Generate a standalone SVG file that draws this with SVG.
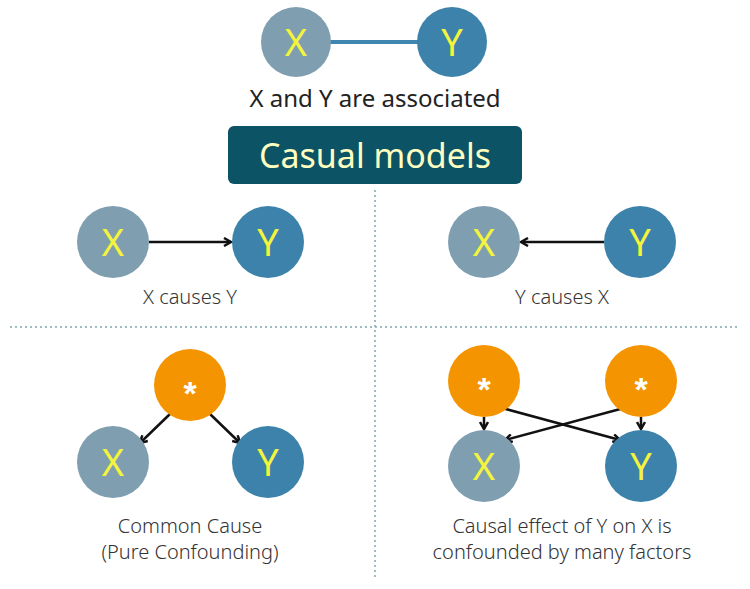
<svg xmlns="http://www.w3.org/2000/svg" width="750" height="589" viewBox="0 0 750 589">
<style>
.cx{fill:#7f9fb1}.cy{fill:#3d82aa}.cs{fill:#f49400}
.l{font-family:"Noto Sans","Liberation Sans",sans-serif;font-size:38px;fill:#f4f43c;text-anchor:middle}
.st{font-family:"Liberation Sans",sans-serif;font-size:34px;font-weight:bold;fill:#fff;text-anchor:middle}
.t{font-family:"Noto Sans","Liberation Sans",sans-serif;font-size:20px;font-weight:300;fill:#333;text-anchor:middle}
.a{stroke:#111;stroke-width:2.5;fill:none;marker-end:url(#ah)}
.d{stroke:#7fa8b0;stroke-width:1.5;stroke-dasharray:2 3}
</style>
<defs><marker id="ah" markerWidth="10" markerHeight="10" refX="8" refY="5" orient="auto" markerUnits="userSpaceOnUse"><path d="M1,1 L8,5 L1,9" fill="none" stroke="#111" stroke-width="2.5"/></marker></defs>
<rect width="750" height="589" fill="#fff"/>
<g id="connectors">
<line x1="320" y1="42" x2="430" y2="42" stroke="#3f86b0" stroke-width="4"/>
<line class="d" x1="375" y1="190" x2="375" y2="580"/>
<line class="d" x1="10" y1="327" x2="740" y2="327"/>
<line class="a" x1="149" y1="242" x2="231" y2="242"/>
<line class="a" x1="604" y1="242" x2="521" y2="242"/>
<line class="a" x1="170" y1="414" x2="140" y2="443"/>
<line class="a" x1="210" y1="414" x2="240" y2="443"/>
<line class="a" x1="484" y1="417" x2="484" y2="429"/>
<line class="a" x1="641" y1="417" x2="641" y2="429"/>
<line class="a" x1="502" y1="408" x2="620" y2="440"/>
<line class="a" x1="624" y1="408" x2="505" y2="440"/>
</g>
<g id="top-x"><circle class="cx" cx="296" cy="42" r="35"/><text class="l" x="296" y="56">X</text></g>
<g id="top-y"><circle class="cy" cx="452" cy="42" r="35"/><text class="l" x="452" y="56">Y</text></g>
<text x="375" y="107" font-family="Noto Sans,Liberation Sans,sans-serif" font-size="24" fill="#222" text-anchor="middle">X and Y are associated</text>
<g id="title"><rect x="228" y="126" width="294" height="58" rx="6" fill="#0d5366"/><text x="375" y="168" font-family="Noto Sans,Liberation Sans,sans-serif" font-size="34" fill="#ffffc0" text-anchor="middle">Casual models</text></g>
<g id="p1x"><circle class="cx" cx="113" cy="242" r="36"/><text class="l" x="113" y="256">X</text></g>
<g id="p1y"><circle class="cy" cx="268" cy="242" r="36"/><text class="l" x="268" y="256">Y</text></g>
<text class="t" x="190" y="304">X causes Y</text>
<g id="p2x"><circle class="cx" cx="484" cy="242" r="36"/><text class="l" x="484" y="256">X</text></g>
<g id="p2y"><circle class="cy" cx="640" cy="242" r="36"/><text class="l" x="640" y="256">Y</text></g>
<text class="t" x="562" y="304">Y causes X</text>
<g id="p3s"><circle class="cs" cx="190" cy="385" r="36"/><text class="st" x="190" y="405">*</text></g>
<g id="p3x"><circle class="cx" cx="113" cy="462" r="36"/><text class="l" x="113" y="476">X</text></g>
<g id="p3y"><circle class="cy" cx="268" cy="462" r="36"/><text class="l" x="268" y="476">Y</text></g>
<text class="t" x="190" y="533">Common Cause</text>
<text class="t" x="190" y="559">(Pure Confounding)</text>
<g id="p4s1"><circle class="cs" cx="484" cy="381" r="36"/><text class="st" x="484" y="401">*</text></g>
<g id="p4s2"><circle class="cs" cx="641" cy="381" r="36"/><text class="st" x="641" y="401">*</text></g>
<g id="p4x"><circle class="cx" cx="484" cy="466" r="36"/><text class="l" x="484" y="480">X</text></g>
<g id="p4y"><circle class="cy" cx="641" cy="466" r="36"/><text class="l" x="641" y="480">Y</text></g>
<text class="t" x="562" y="533">Causal effect of Y on X is</text>
<text class="t" x="562" y="559">confounded by many factors</text>
</svg>
